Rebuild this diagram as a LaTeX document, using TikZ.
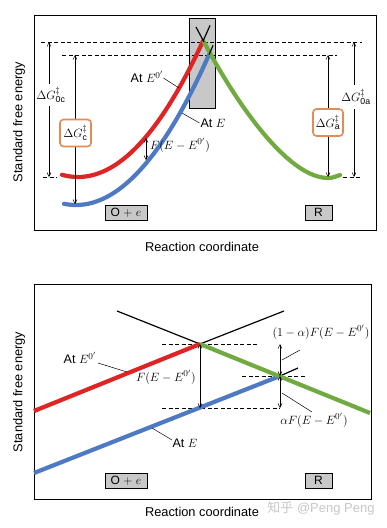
\documentclass[tikz,border=0pt]{standalone}
\usepackage{amsmath}
\usepackage{fontspec}
\setmainfont{Liberation Sans}
\newfontfamily\cjk{Noto Sans CJK SC}
\usetikzlibrary{arrows.meta}
\definecolor{cred}{RGB}{222,36,36}
\definecolor{cblue}{RGB}{78,122,196}
\definecolor{cgreen}{RGB}{112,170,64}
\definecolor{corange}{RGB}{228,140,84}
\definecolor{cbox}{RGB}{200,200,200}
\tikzset{
  frame/.style={line width=1pt},
  dline/.style={dash pattern=on 4pt off 2.5pt, line width=0.6pt},
  dim/.style={line width=0.5pt, {Straight Barb[length=4pt,width=4pt]}-{Straight Barb[length=4pt,width=4pt]}},
  lead/.style={line width=0.5pt},
  curvered/.style={line width=4.2pt, draw=cred, line cap=round},
  curveblue/.style={line width=4.2pt, draw=cblue, line cap=round},
  curvegreen/.style={line width=4.2pt, draw=cgreen, line cap=round},
  ext/.style={line width=1.2pt},
  statebox/.style={draw, line width=0.7pt, fill=cbox, inner sep=0pt, font=\fontsize{12}{13}\selectfont},
  obox/.style={draw=corange, line width=1.6pt, rounded corners=3.5pt, fill=white, inner sep=0pt, minimum height=27pt},
  lbl/.style={font=\fontsize{12.5}{14}\selectfont, inner sep=1pt},
  axlbl/.style={font=\fontsize{12.8}{14}\selectfont, inner sep=0pt}
}
\begin{document}
\begin{tikzpicture}[x=1pt,y=-1pt]
\useasboundingbox (0,0) rectangle (387,528);
% ================= TOP PANEL =================
\draw[frame] (34,15) rectangle (376,230);
\node[draw, line width=0.7pt, fill=cbox, minimum width=26pt, minimum height=90pt, inner sep=0pt] (tsbox) at (202,63) {};
% dashed lines
\draw[dline] (41,42) -- (362,42);
\draw[dline] (62,55) -- (337,55);
\draw[dline] (43,177) -- (57,177);
\draw[dline] (343,177) -- (362,177);
% curves
\draw[curvered] plot[domain=62:203, samples=50] (\x,{177-0.87*((\x-78)/10)^2});
\draw[curveblue] plot[domain=64:209, samples=50] (\x,{205-0.85*((\x-76)/10)^2});
\coordinate (gtop) at (204,42);
\coordinate (gmin) at (328,178);
\coordinate (gend) at (340,175);
\draw[curvegreen] (gtop) .. controls (240,110) and (290,178) .. (gmin) .. controls (333,178) and (337,176) .. (gend);
% black continuations
\coordinate (xl) at (196,27);
\draw[ext] (xl) -- (gtop);
\draw[ext] plot[domain=203:210, samples=8] (\x,{177-0.87*((\x-78)/10)^2});
\draw[ext] plot[domain=209:213, samples=5] (\x,{205-0.85*((\x-76)/10)^2});
% Delta G0c
\coordinate (c0t) at (49,42);
\coordinate (c0b) at (49,177);
\draw[dim] (c0t) -- (c0b);
\node[lbl, fill=white, minimum height=22pt] (g0c) at (51,95) {$\Delta G^{\ddagger}_{\text{0c}}$};
% Delta Gc
\coordinate (ct) at (75,55);
\coordinate (cb) at (75,204);
\draw[dim] (ct) -- (cb);
\node[obox, lbl, minimum width=31pt] (gc) at (75.5,133) {$\Delta G^{\ddagger}_{\text{c}}$};
% Delta Ga
\coordinate (at) at (328,55);
\coordinate (ab) at (328,177);
\draw[dim] (at) -- (ab);
\node[obox, lbl, minimum width=30pt] (ga) at (328,122.5) {$\Delta G^{\ddagger}_{\text{a}}$};
% Delta G0a
\coordinate (a0t) at (354,42);
\coordinate (a0b) at (354,177);
\draw[dim] (a0t) -- (a0b);
\node[lbl, fill=white, minimum height=24pt] (g0a) at (356,97) {$\Delta G^{\ddagger}_{\text{0a}}$};
% F(E-E0') small
\coordinate (ft) at (146,138);
\coordinate (fb) at (146,160);
\draw[dim] (ft) -- (fb);
\node[lbl] (flab) at (180,145) {$F(E-E^{0'})$};
% At labels
\node[lbl] (atE0) at (147,77) {At $E^{0'}$};
\coordinate (atE0p) at (179,88);
\draw[lead] (atE0.east) ++(-1,1) coordinate (atE0s) -- (atE0p);
\node[lbl] (atE) at (213,123) {At $E$};
\coordinate (atEp) at (182,113);
\draw[lead] (atEp) -- (atE.west);
% state boxes
\node[statebox, minimum width=42pt, minimum height=15pt] (oe1) at (126,212.5) {O $+$ $e$};
\node[statebox, minimum width=27pt, minimum height=15pt] (r1) at (318.5,212.5) {R};
% axis labels
\node[axlbl] (xlab1) at (202,247) {Reaction coordinate};
\node[axlbl, rotate=90] (ylab1) at (19,122) {Standard free energy};
% ================= BOTTOM PANEL =================
\draw[frame] (34,284) rectangle (371,499);
\coordinate (cross) at (200,344);
\coordinate (cross2) at (280,376);
\coordinate (rl) at (34,411);
\coordinate (gr) at (370,413);
\coordinate (bl) at (34,473);
\coordinate (kl) at (117,311);
\coordinate (kr) at (284,311);
\coordinate (kb) at (298,368);
% dashed
\draw[dline] (162,344) -- (258,344);
\draw[dline] (242,376) -- (306,376);
\draw[dline] (162,408) -- (280,408);
% lines
\draw[ext] (kl) -- (cross) -- (kr);
\draw[ext] (cross2) -- (kb);
\draw[curvered, line cap=butt] (rl) -- (cross);
\draw[curveblue, line cap=butt] (bl) -- (cross2);
\draw[curvegreen, line cap=butt] (cross) -- (gr);
% arrows
\coordinate (fb2) at (200,408);
\draw[dim] (cross) -- (fb2);
\coordinate (u1) at (280,344);
\coordinate (u3) at (280,408);
\draw[dim] (u1) -- (cross2);
\draw[dim] (cross2) -- (u3);
% labels
\node[lbl, anchor=east] (flab2) at (197,377) {$F(E-E^{0'})$};
\node[lbl] (oma) at (321,332) {$(1-\alpha)F(E-E^{0'})$};
\coordinate (omap) at (282,360);
\draw[lead] (omap) -- (300,350) coordinate (omaq);
\node[lbl] (alab) at (314,420) {$\alpha F(E-E^{0'})$};
\coordinate (alp) at (282,393);
\draw[lead] (alp) -- (312,412) coordinate (alq);
\node[lbl] (atE0b) at (80,358) {At $E^{0'}$};
\coordinate (atE0bp) at (127,372);
\draw[lead] (98,363) coordinate (atE0bs) -- (atE0bp);
\node[lbl] (atEb) at (185,443) {At $E$};
\coordinate (atEbp) at (152,428);
\draw[lead] (atEbp) -- (172,440) coordinate (atEbs);
% state boxes
\node[statebox, minimum width=42pt, minimum height=15pt] (oe2) at (126,480.5) {O $+$ $e$};
\node[statebox, minimum width=27pt, minimum height=15pt] (r2) at (318.5,480.5) {R};
% axis labels
\node[axlbl] (xlab2) at (202,512) {Reaction coordinate};
\node[axlbl, rotate=90] (ylab2) at (19,392) {Standard free energy};
\node[axlbl, text=gray!45, font=\fontsize{13}{14}\selectfont] (wm) at (321,508) {{\cjk 知乎} @Peng Peng};
\end{tikzpicture}
\end{document}
